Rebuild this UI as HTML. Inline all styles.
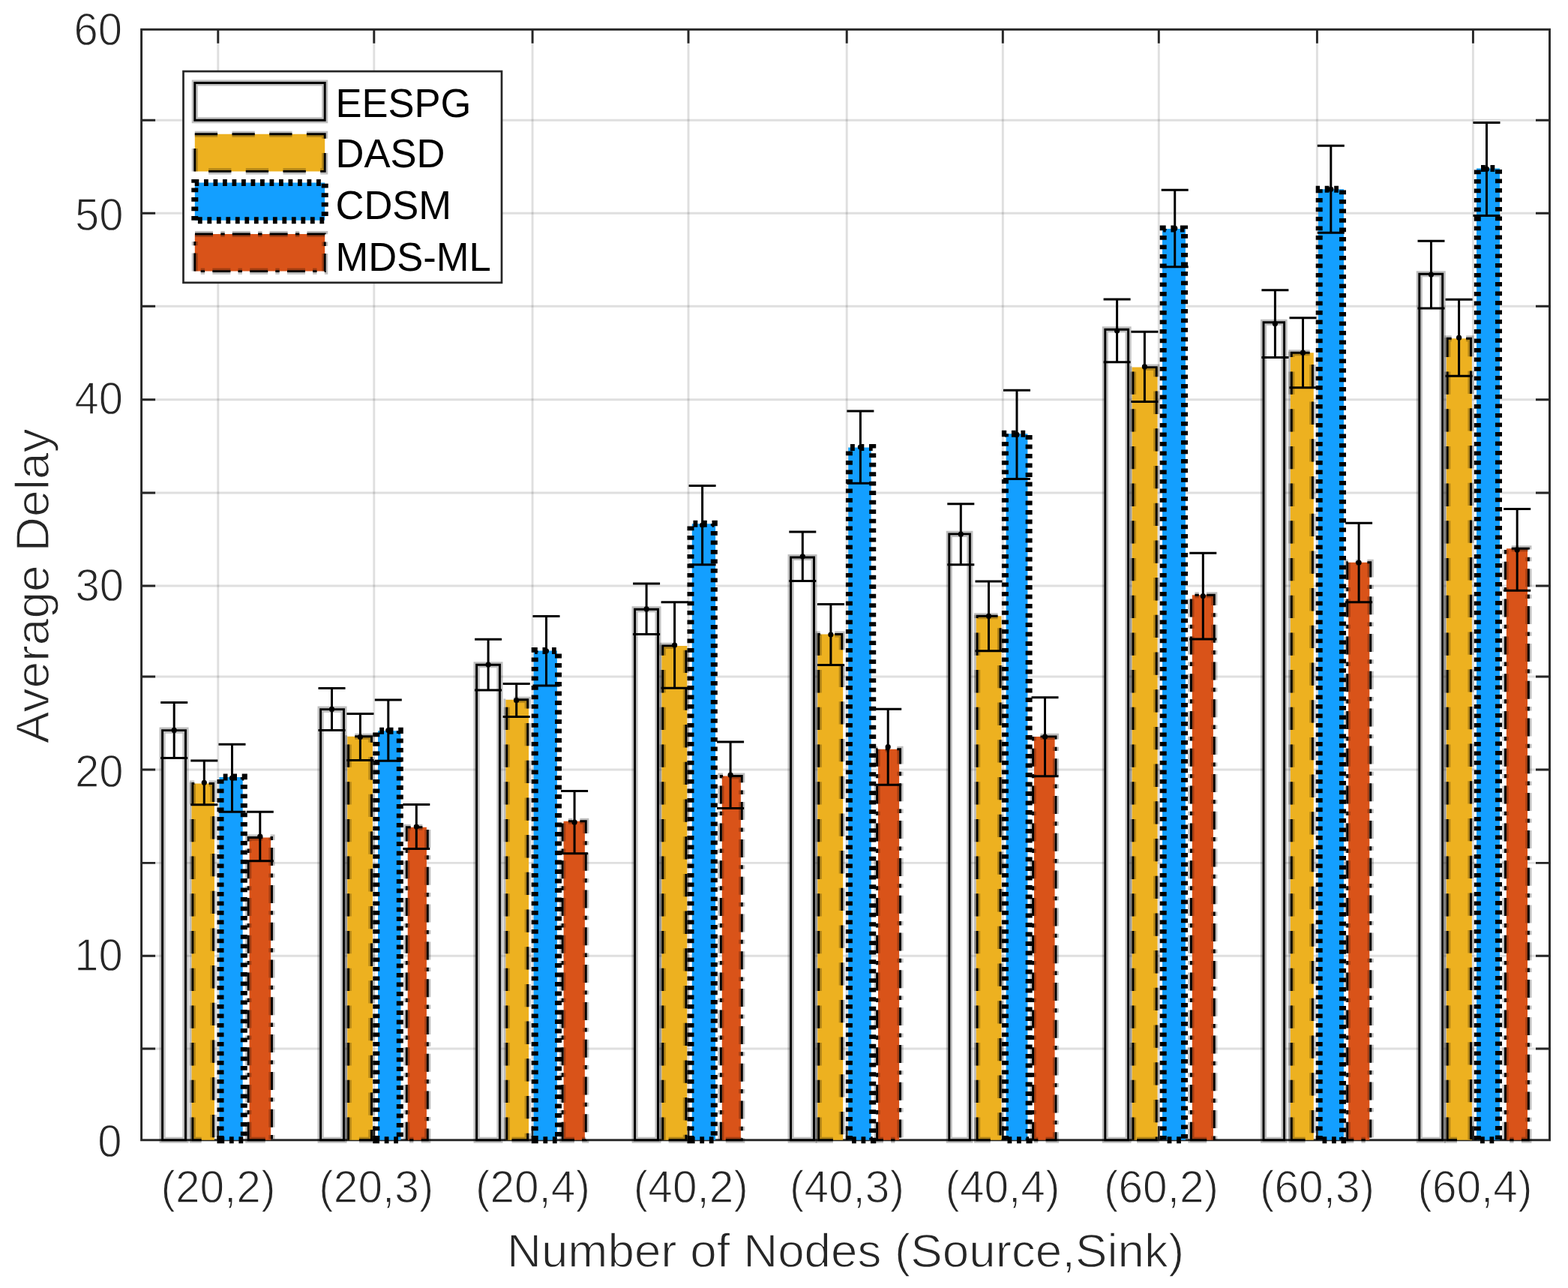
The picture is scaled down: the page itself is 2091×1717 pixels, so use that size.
<!DOCTYPE html>
<html><head><meta charset="utf-8"><title>Average Delay</title>
<style>html,body{margin:0;padding:0;background:#fff;}body{width:2091px;height:1717px;overflow:hidden;}svg{display:block;}text{font-family:"Liberation Sans",Arial,Helvetica,sans-serif;stroke:#fff;stroke-width:1.2px;stroke-linejoin:miter;}text.lg{stroke:none;}</style></head><body>
<svg width="2091" height="1717" viewBox="0 0 2091 1717">
<rect x="0" y="0" width="2091" height="1717" fill="#ffffff"/>
<path d="M290.8 39.3V1519.8M498.8 39.3V1519.8M710.1 39.3V1519.8M918 39.3V1519.8M1129.2 39.3V1519.8M1337.3 39.3V1519.8M1545.3 39.3V1519.8M1756.4 39.3V1519.8M1964.4 39.3V1519.8" stroke="#262626" stroke-opacity="0.15" stroke-width="2.9" fill="none"/>
<path d="M188.6 160.2H2066.5M188.6 284.2H2066.5M188.6 408.3H2066.5M188.6 532.7H2066.5M188.6 657H2066.5M188.6 781H2066.5M188.6 902H2066.5M188.6 1026H2066.5M188.6 1150.4H2066.5M188.6 1274.3H2066.5M188.6 1398H2066.5" stroke="#262626" stroke-opacity="0.15" stroke-width="2.9" fill="none"/>
<path d="M290.8 39.3v18.5M290.8 1519.8v-18.5M498.8 39.3v18.5M498.8 1519.8v-18.5M710.1 39.3v18.5M710.1 1519.8v-18.5M918 39.3v18.5M918 1519.8v-18.5M1129.2 39.3v18.5M1129.2 1519.8v-18.5M1337.3 39.3v18.5M1337.3 1519.8v-18.5M1545.3 39.3v18.5M1545.3 1519.8v-18.5M1756.4 39.3v18.5M1756.4 1519.8v-18.5M1964.4 39.3v18.5M1964.4 1519.8v-18.5M188.6 160.2h18.5M2066.5 160.2h-18.5M188.6 284.2h18.5M2066.5 284.2h-18.5M188.6 408.3h18.5M2066.5 408.3h-18.5M188.6 532.7h18.5M2066.5 532.7h-18.5M188.6 657h18.5M2066.5 657h-18.5M188.6 781h18.5M2066.5 781h-18.5M188.6 902h18.5M2066.5 902h-18.5M188.6 1026h18.5M2066.5 1026h-18.5M188.6 1150.4h18.5M2066.5 1150.4h-18.5M188.6 1274.3h18.5M2066.5 1274.3h-18.5M188.6 1398h18.5M2066.5 1398h-18.5" stroke="#262626" stroke-width="2.9" fill="none"/>
<rect x="188.6" y="39.3" width="1877.9" height="1480.5" fill="none" stroke="#262626" stroke-width="2.9"/>
<path d="M216.6 1519.8V973.6H247.5V1519.8ZM427.6 1519.8V945.6H458.5V1519.8ZM635.6 1519.8V886.2H666.5V1519.8ZM846.6 1519.8V812.2H877.5V1519.8ZM1054.6 1519.8V743H1085.5V1519.8ZM1265.8 1519.8V711.9H1293.4V1519.8ZM1473.8 1519.8V439.3H1504.6V1519.8ZM1685 1519.8V429.8H1712.6V1519.8ZM1892.8 1519.8V365.3H1923.7V1519.8Z" fill="#ffffff" stroke="none"/>
<path d="M216.6 1519.8V973.6H247.5V1519.8Z" fill="none" stroke="#000" stroke-opacity="0.25" stroke-width="8.1"/>
<path d="M216.6 1519.8V973.6H247.5V1519.8Z" fill="none" stroke="#000" stroke-width="2.9"/>
<path d="M427.6 1519.8V945.6H458.5V1519.8Z" fill="none" stroke="#000" stroke-opacity="0.25" stroke-width="8.1"/>
<path d="M427.6 1519.8V945.6H458.5V1519.8Z" fill="none" stroke="#000" stroke-width="2.9"/>
<path d="M635.6 1519.8V886.2H666.5V1519.8Z" fill="none" stroke="#000" stroke-opacity="0.25" stroke-width="8.1"/>
<path d="M635.6 1519.8V886.2H666.5V1519.8Z" fill="none" stroke="#000" stroke-width="2.9"/>
<path d="M846.6 1519.8V812.2H877.5V1519.8Z" fill="none" stroke="#000" stroke-opacity="0.25" stroke-width="8.1"/>
<path d="M846.6 1519.8V812.2H877.5V1519.8Z" fill="none" stroke="#000" stroke-width="2.9"/>
<path d="M1054.6 1519.8V743H1085.5V1519.8Z" fill="none" stroke="#000" stroke-opacity="0.25" stroke-width="8.1"/>
<path d="M1054.6 1519.8V743H1085.5V1519.8Z" fill="none" stroke="#000" stroke-width="2.9"/>
<path d="M1265.8 1519.8V711.9H1293.4V1519.8Z" fill="none" stroke="#000" stroke-opacity="0.25" stroke-width="8.1"/>
<path d="M1265.8 1519.8V711.9H1293.4V1519.8Z" fill="none" stroke="#000" stroke-width="2.9"/>
<path d="M1473.8 1519.8V439.3H1504.6V1519.8Z" fill="none" stroke="#000" stroke-opacity="0.25" stroke-width="8.1"/>
<path d="M1473.8 1519.8V439.3H1504.6V1519.8Z" fill="none" stroke="#000" stroke-width="2.9"/>
<path d="M1685 1519.8V429.8H1712.6V1519.8Z" fill="none" stroke="#000" stroke-opacity="0.25" stroke-width="8.1"/>
<path d="M1685 1519.8V429.8H1712.6V1519.8Z" fill="none" stroke="#000" stroke-width="2.9"/>
<path d="M1892.8 1519.8V365.3H1923.7V1519.8Z" fill="none" stroke="#000" stroke-opacity="0.25" stroke-width="8.1"/>
<path d="M1892.8 1519.8V365.3H1923.7V1519.8Z" fill="none" stroke="#000" stroke-width="2.9"/>
<path d="M255.5 1519.8V1044.5H285.9V1519.8ZM463.2 1519.8V981.7H496.9V1519.8ZM674.4 1519.8V932.8H705.1V1519.8ZM882.4 1519.8V860.9H916.3V1519.8ZM1090.3 1519.8V845.5H1124.2V1519.8ZM1301.7 1519.8V821.2H1335.4V1519.8ZM1509.6 1519.8V489.6H1543.6V1519.8ZM1720.9 1519.8V470.2H1751.8V1519.8ZM1928.8 1519.8V451.3H1962.9V1519.8Z" fill="#edb120" stroke="none"/>
<path d="M254 1521.3V1043.1M461.7 1521.3V980.3M672.9 1521.3V931.4M880.9 1521.3V859.5M1088.8 1521.3V844.1M1300.2 1521.3V819.8M1508.1 1521.3V488.2M1719.4 1521.3V468.8M1927.3 1521.3V449.9" fill="none" stroke="#000" stroke-opacity="0.25" stroke-width="2.8"/>
<path d="M256.9 1519.8V1044.5H284.5V1519.8Z" fill="none" stroke="#000" stroke-opacity="0.25" stroke-width="8.1" stroke-dasharray="30.3 19.4"/>
<path d="M256.9 1519.8V1044.5H284.5V1519.8Z" fill="none" stroke="#000" stroke-width="2.9" stroke-dasharray="30.3 19.4"/>
<path d="M464.6 1519.8V981.7H495.5V1519.8Z" fill="none" stroke="#000" stroke-opacity="0.25" stroke-width="8.1" stroke-dasharray="30.3 19.4"/>
<path d="M464.6 1519.8V981.7H495.5V1519.8Z" fill="none" stroke="#000" stroke-width="2.9" stroke-dasharray="30.3 19.4"/>
<path d="M675.8 1519.8V932.8H703.7V1519.8Z" fill="none" stroke="#000" stroke-opacity="0.25" stroke-width="8.1" stroke-dasharray="30.3 19.4"/>
<path d="M675.8 1519.8V932.8H703.7V1519.8Z" fill="none" stroke="#000" stroke-width="2.9" stroke-dasharray="30.3 19.4"/>
<path d="M883.8 1519.8V860.9H914.9V1519.8Z" fill="none" stroke="#000" stroke-opacity="0.25" stroke-width="8.1" stroke-dasharray="30.3 19.4"/>
<path d="M883.8 1519.8V860.9H914.9V1519.8Z" fill="none" stroke="#000" stroke-width="2.9" stroke-dasharray="30.3 19.4"/>
<path d="M1091.7 1519.8V845.5H1122.8V1519.8Z" fill="none" stroke="#000" stroke-opacity="0.25" stroke-width="8.1" stroke-dasharray="30.3 19.4"/>
<path d="M1091.7 1519.8V845.5H1122.8V1519.8Z" fill="none" stroke="#000" stroke-width="2.9" stroke-dasharray="30.3 19.4"/>
<path d="M1303.1 1519.8V821.2H1334V1519.8Z" fill="none" stroke="#000" stroke-opacity="0.25" stroke-width="8.1" stroke-dasharray="30.3 19.4"/>
<path d="M1303.1 1519.8V821.2H1334V1519.8Z" fill="none" stroke="#000" stroke-width="2.9" stroke-dasharray="30.3 19.4"/>
<path d="M1511 1519.8V489.6H1542.2V1519.8Z" fill="none" stroke="#000" stroke-opacity="0.25" stroke-width="8.1" stroke-dasharray="30.3 19.4"/>
<path d="M1511 1519.8V489.6H1542.2V1519.8Z" fill="none" stroke="#000" stroke-width="2.9" stroke-dasharray="30.3 19.4"/>
<path d="M1722.3 1519.8V470.2H1750.4V1519.8Z" fill="none" stroke="#000" stroke-opacity="0.25" stroke-width="8.1" stroke-dasharray="30.3 19.4"/>
<path d="M1722.3 1519.8V470.2H1750.4V1519.8Z" fill="none" stroke="#000" stroke-width="2.9" stroke-dasharray="30.3 19.4"/>
<path d="M1930.2 1519.8V451.3H1961.5V1519.8Z" fill="none" stroke="#000" stroke-opacity="0.25" stroke-width="8.1" stroke-dasharray="30.3 19.4"/>
<path d="M1930.2 1519.8V451.3H1961.5V1519.8Z" fill="none" stroke="#000" stroke-width="2.9" stroke-dasharray="30.3 19.4"/>
<path d="M292.4 1519.8V1036H323.7V1519.8ZM504 1519.8V974.2H534.5V1519.8ZM711.6 1519.8V867.6H742.9V1519.8ZM922.8 1519.8V698.3H954.1V1519.8ZM1131.2 1519.8V596.4H1161.7V1519.8ZM1341.6 1519.8V578.3H1370.4V1519.8ZM1550 1519.8V305H1580.9V1519.8ZM1757.9 1519.8V252.3H1792V1519.8ZM1969 1519.8V224.5H2000V1519.8Z" fill="#139fff" stroke="none"/>
<path d="M294 1519.8V1036H325.3V1519.8Z" fill="none" stroke="#000" stroke-width="9" stroke-dasharray="5.8 6.7"/>
<path d="M501.8 1519.8V974.2H533.3V1519.8Z" fill="none" stroke="#000" stroke-width="9" stroke-dasharray="5.8 6.7"/>
<path d="M713.2 1519.8V867.6H744.5V1519.8Z" fill="none" stroke="#000" stroke-width="9" stroke-dasharray="5.8 6.7"/>
<path d="M921 1519.8V698.3H952.3V1519.8Z" fill="none" stroke="#000" stroke-width="9" stroke-dasharray="5.8 6.7"/>
<path d="M1132.4 1519.8V596.4H1163.7V1519.8Z" fill="none" stroke="#000" stroke-width="9" stroke-dasharray="5.8 6.7"/>
<path d="M1340.4 1519.8V578.3H1372.1V1519.8Z" fill="none" stroke="#000" stroke-width="9" stroke-dasharray="5.8 6.7"/>
<path d="M1551.2 1519.8V305H1579.5V1519.8Z" fill="none" stroke="#000" stroke-width="9" stroke-dasharray="5.8 6.7"/>
<path d="M1759.2 1519.8V252.3H1790.5V1519.8Z" fill="none" stroke="#000" stroke-width="9" stroke-dasharray="5.8 6.7"/>
<path d="M1970.3 1519.8V224.5H1998.5V1519.8Z" fill="none" stroke="#000" stroke-width="9" stroke-dasharray="5.8 6.7"/>
<path d="M332.6 1519.8V1116.5H361.1V1519.8ZM543.7 1519.8V1102.8H568.9V1519.8ZM751.6 1519.8V1094.8H779.9V1519.8ZM962.8 1519.8V1034.5H987.9V1519.8ZM1171 1519.8V998.7H1199.1V1519.8ZM1379 1519.8V981.9H1406.6V1519.8ZM1589.8 1519.8V793.3H1617.9V1519.8ZM1798.1 1519.8V749.7H1826.3V1519.8ZM2008.9 1519.8V731.2H2037V1519.8Z" fill="#d95319" stroke="none"/>
<path d="M331.2 1519.8V1116.5H362.5V1519.8Z" fill="none" stroke="#000" stroke-opacity="0.25" stroke-width="8.1" stroke-dasharray="24 10.3 5.4 10.1"/>
<path d="M331.2 1519.8V1116.5H362.5V1519.8Z" fill="none" stroke="#000" stroke-width="2.9" stroke-dasharray="24 10.3 5.4 10.1"/>
<path d="M542.3 1519.8V1102.8H570.3V1519.8Z" fill="none" stroke="#000" stroke-opacity="0.25" stroke-width="8.1" stroke-dasharray="24 10.3 5.4 10.1"/>
<path d="M542.3 1519.8V1102.8H570.3V1519.8Z" fill="none" stroke="#000" stroke-width="2.9" stroke-dasharray="24 10.3 5.4 10.1"/>
<path d="M750.2 1519.8V1094.8H781.3V1519.8Z" fill="none" stroke="#000" stroke-opacity="0.25" stroke-width="8.1" stroke-dasharray="24 10.3 5.4 10.1"/>
<path d="M750.2 1519.8V1094.8H781.3V1519.8Z" fill="none" stroke="#000" stroke-width="2.9" stroke-dasharray="24 10.3 5.4 10.1"/>
<path d="M961.4 1519.8V1034.5H989.3V1519.8Z" fill="none" stroke="#000" stroke-opacity="0.25" stroke-width="8.1" stroke-dasharray="24 10.3 5.4 10.1"/>
<path d="M961.4 1519.8V1034.5H989.3V1519.8Z" fill="none" stroke="#000" stroke-width="2.9" stroke-dasharray="24 10.3 5.4 10.1"/>
<path d="M1169.6 1519.8V998.7H1200.5V1519.8Z" fill="none" stroke="#000" stroke-opacity="0.25" stroke-width="8.1" stroke-dasharray="24 10.3 5.4 10.1"/>
<path d="M1169.6 1519.8V998.7H1200.5V1519.8Z" fill="none" stroke="#000" stroke-width="2.9" stroke-dasharray="24 10.3 5.4 10.1"/>
<path d="M1377.6 1519.8V981.9H1408V1519.8Z" fill="none" stroke="#000" stroke-opacity="0.25" stroke-width="8.1" stroke-dasharray="24 10.3 5.4 10.1"/>
<path d="M1377.6 1519.8V981.9H1408V1519.8Z" fill="none" stroke="#000" stroke-width="2.9" stroke-dasharray="24 10.3 5.4 10.1"/>
<path d="M1588.4 1519.8V793.3H1619.3V1519.8Z" fill="none" stroke="#000" stroke-opacity="0.25" stroke-width="8.1" stroke-dasharray="24 10.3 5.4 10.1"/>
<path d="M1588.4 1519.8V793.3H1619.3V1519.8Z" fill="none" stroke="#000" stroke-width="2.9" stroke-dasharray="24 10.3 5.4 10.1"/>
<path d="M1796.7 1519.8V749.7H1827.7V1519.8Z" fill="none" stroke="#000" stroke-opacity="0.25" stroke-width="8.1" stroke-dasharray="24 10.3 5.4 10.1"/>
<path d="M1796.7 1519.8V749.7H1827.7V1519.8Z" fill="none" stroke="#000" stroke-width="2.9" stroke-dasharray="24 10.3 5.4 10.1"/>
<path d="M2007.5 1519.8V731.2H2038.4V1519.8Z" fill="none" stroke="#000" stroke-opacity="0.25" stroke-width="8.1" stroke-dasharray="24 10.3 5.4 10.1"/>
<path d="M2007.5 1519.8V731.2H2038.4V1519.8Z" fill="none" stroke="#000" stroke-width="2.9" stroke-dasharray="24 10.3 5.4 10.1"/>
<path d="M232.2 936.4V1010.4M214.2 936.4h36M214.2 1010.4h36M272.3 1013.9V1072.7M254.3 1013.9h36M254.3 1072.7h36M309.5 992.3V1082.2M291.5 992.3h36M291.5 1082.2h36M346.8 1082.2V1147.7M328.8 1082.2h36M328.8 1147.7h36M442.5 917.4V973.4M424.5 917.4h36M424.5 973.4h36M480.4 951.5V1013.5M462.4 951.5h36M462.4 1013.5h36M517.8 933V1014.3M499.8 933h36M499.8 1014.3h36M555.3 1072.6V1131.6M537.3 1072.6h36M537.3 1131.6h36M651.1 852.2V919.9M633.1 852.2h36M633.1 919.9h36M688.7 911.4V955.5M670.7 911.4h36M670.7 955.5h36M728.5 821.5V914M710.5 821.5h36M710.5 914h36M766.1 1054.6V1137.7M748.1 1054.6h36M748.1 1137.7h36M862.1 777.9V845.6M844.1 777.9h36M844.1 845.6h36M899.6 802.8V917.2M881.6 802.8h36M881.6 917.2h36M936.6 647.4V752.7M918.6 647.4h36M918.6 752.7h36M974.1 989V1077.4M956.1 989h36M956.1 1077.4h36M1070.3 709.1V774.5M1052.3 709.1h36M1052.3 774.5h36M1107.9 805.4V886.6M1089.9 805.4h36M1089.9 886.6h36M1147.4 547.9V644.2M1129.4 547.9h36M1129.4 644.2h36M1184.2 945.2V1046.2M1166.2 945.2h36M1166.2 1046.2h36M1281.3 671.8V752.7M1263.3 671.8h36M1263.3 752.7h36M1318.5 774.9V867.8M1300.5 774.9h36M1300.5 867.8h36M1356 520.2V638.6M1338 520.2h36M1338 638.6h36M1393.5 929.7V1034.7M1375.5 929.7h36M1375.5 1034.7h36M1489.6 399.1V482.8M1471.6 399.1h36M1471.6 482.8h36M1526.4 442.3V535.4M1508.4 442.3h36M1508.4 535.4h36M1566.7 253.2V355.7M1548.7 253.2h36M1548.7 355.7h36M1604.3 737.3V852M1586.3 737.3h36M1586.3 852h36M1700.4 386.8V476.5M1682.4 386.8h36M1682.4 476.5h36M1737.5 423.7V516.8M1719.5 423.7h36M1719.5 516.8h36M1774.8 194.3V310.3M1756.8 194.3h36M1756.8 310.3h36M1812.1 697.3V802.7M1794.1 697.3h36M1794.1 802.7h36M1908.5 321.2V411.1M1890.5 321.2h36M1890.5 411.1h36M1945.6 399.3V501.2M1927.6 399.3h36M1927.6 501.2h36M1982.5 163.4V287.4M1964.5 163.4h36M1964.5 287.4h36M2023.2 678.6V787.2M2005.2 678.6h36M2005.2 787.2h36" stroke="#000" stroke-width="3" fill="none"/>
<g fill="#000"><circle cx="232.2" cy="973.4" r="3.6"/><circle cx="272.3" cy="1043.3" r="3.6"/><circle cx="309.5" cy="1037.2" r="3.6"/><circle cx="346.8" cy="1115" r="3.6"/><circle cx="442.5" cy="945.4" r="3.6"/><circle cx="480.4" cy="982.5" r="3.6"/><circle cx="517.8" cy="973.6" r="3.6"/><circle cx="555.3" cy="1102.1" r="3.6"/><circle cx="651.1" cy="886" r="3.6"/><circle cx="688.7" cy="933.5" r="3.6"/><circle cx="728.5" cy="867.8" r="3.6"/><circle cx="766.1" cy="1096.2" r="3.6"/><circle cx="862.1" cy="811.8" r="3.6"/><circle cx="899.6" cy="860" r="3.6"/><circle cx="936.6" cy="700" r="3.6"/><circle cx="974.1" cy="1033.2" r="3.6"/><circle cx="1070.3" cy="741.8" r="3.6"/><circle cx="1107.9" cy="846" r="3.6"/><circle cx="1147.4" cy="596" r="3.6"/><circle cx="1184.2" cy="995.7" r="3.6"/><circle cx="1281.3" cy="712.2" r="3.6"/><circle cx="1318.5" cy="821.3" r="3.6"/><circle cx="1356" cy="579.4" r="3.6"/><circle cx="1393.5" cy="982.2" r="3.6"/><circle cx="1489.6" cy="441" r="3.6"/><circle cx="1526.4" cy="488.9" r="3.6"/><circle cx="1566.7" cy="304.4" r="3.6"/><circle cx="1604.3" cy="794.6" r="3.6"/><circle cx="1700.4" cy="431.6" r="3.6"/><circle cx="1737.5" cy="470.2" r="3.6"/><circle cx="1774.8" cy="252.3" r="3.6"/><circle cx="1812.1" cy="750" r="3.6"/><circle cx="1908.5" cy="366.1" r="3.6"/><circle cx="1945.6" cy="450.2" r="3.6"/><circle cx="1982.5" cy="225.4" r="3.6"/><circle cx="2023.2" cy="732.9" r="3.6"/></g>
<rect x="244.5" y="95.1" width="424.5" height="281.7" fill="#fff" stroke="#262626" stroke-width="2.7"/>
<path d="M259.8 160.2V110.5H433.2V160.2Z" fill="#ffffff" stroke="none"/>
<path d="M259.8 160.2V110.5H433.2V160.2Z" fill="none" stroke="#000" stroke-opacity="0.25" stroke-width="8.1"/>
<path d="M259.8 160.2V110.5H433.2V160.2Z" fill="none" stroke="#000" stroke-width="2.9"/>
<text transform="translate(447.5 155.7) scale(1.01 1.04)" font-size="52" fill="#000" class="lg">EESPG</text>
<path d="M259.8 228.4V178.7H433.2V228.4Z" fill="#edb120" stroke="none"/>
<path d="M259.8 228.4V178.7H433.2V228.4Z" fill="none" stroke="#000" stroke-opacity="0.25" stroke-width="8.1" stroke-dasharray="30.3 19.4"/>
<path d="M259.8 228.4V178.7H433.2V228.4Z" fill="none" stroke="#000" stroke-width="2.9" stroke-dasharray="30.3 19.4"/>
<text transform="translate(447.5 223.4) scale(1.01 1.04)" font-size="52" fill="#000" class="lg">DASD</text>
<path d="M259.8 293.8V243.5H433.2V293.8Z" fill="#139fff" stroke="none"/>
<path d="M259.8 293.8V243.5H433.2V293.8Z" fill="none" stroke="#000" stroke-width="9" stroke-dasharray="5.8 6.7"/>
<text transform="translate(447.5 292.1) scale(1.01 1.04)" font-size="52" fill="#000" class="lg">CDSM</text>
<path d="M259.8 361.6V312H433.2V361.6Z" fill="#d95319" stroke="none"/>
<path d="M259.8 361.6V312H433.2V361.6Z" fill="none" stroke="#000" stroke-opacity="0.25" stroke-width="8.1" stroke-dasharray="24 10.3 5.4 10.1"/>
<path d="M259.8 361.6V312H433.2V361.6Z" fill="none" stroke="#000" stroke-width="2.9" stroke-dasharray="24 10.3 5.4 10.1"/>
<text transform="translate(447.5 360.5) scale(1.01 1.04)" font-size="52" fill="#000" class="lg">MDS-ML</text>
<text transform="translate(163 59.8) scale(1 1.06)" font-size="58" fill="#262626" text-anchor="end">60</text>
<text transform="translate(164.5 306.7) scale(1 1.06)" font-size="58" fill="#262626" text-anchor="end">50</text>
<text transform="translate(164 552.3) scale(1 1.06)" font-size="58" fill="#262626" text-anchor="end">40</text>
<text transform="translate(164.9 801) scale(1 1.06)" font-size="58" fill="#262626" text-anchor="end">30</text>
<text transform="translate(164.4 1049.1) scale(1 1.06)" font-size="58" fill="#262626" text-anchor="end">20</text>
<text transform="translate(163.7 1294.3) scale(1 1.06)" font-size="58" fill="#262626" text-anchor="end">10</text>
<text transform="translate(162.6 1542.4) scale(1 1.06)" font-size="58" fill="#262626" text-anchor="end">0</text>
<text transform="translate(290.9 1603) scale(1.01 1.06)" font-size="58" fill="#262626" text-anchor="middle">(20,2)</text>
<text transform="translate(501.8 1603) scale(1.01 1.06)" font-size="58" fill="#262626" text-anchor="middle">(20,3)</text>
<text transform="translate(710.4 1603) scale(1.01 1.06)" font-size="58" fill="#262626" text-anchor="middle">(20,4)</text>
<text transform="translate(921.3 1603) scale(1.01 1.06)" font-size="58" fill="#262626" text-anchor="middle">(40,2)</text>
<text transform="translate(1129.4 1603) scale(1.01 1.06)" font-size="58" fill="#262626" text-anchor="middle">(40,3)</text>
<text transform="translate(1336.9 1603) scale(1.01 1.06)" font-size="58" fill="#262626" text-anchor="middle">(40,4)</text>
<text transform="translate(1548.5 1603) scale(1.01 1.06)" font-size="58" fill="#262626" text-anchor="middle">(60,2)</text>
<text transform="translate(1756.5 1603) scale(1.01 1.06)" font-size="58" fill="#262626" text-anchor="middle">(60,3)</text>
<text transform="translate(1966.9 1603) scale(1.01 1.06)" font-size="58" fill="#262626" text-anchor="middle">(60,4)</text>
<text transform="translate(1127.5 1688.6) scale(1.0625 1.05)" font-size="60" fill="#262626" text-anchor="middle">Number of Nodes (Source,Sink)</text>
<text transform="translate(65.1 781.2) rotate(-90) scale(1.07 1.05)" font-size="60" fill="#262626" text-anchor="middle">Average Delay</text>
</svg></body></html>
